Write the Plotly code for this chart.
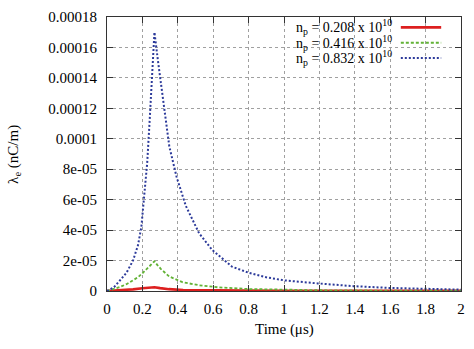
import plotly.graph_objects as go

# Time axis samples (microseconds) and line charge density (nC/m) per proton count
t_low = [0, 0.073, 0.147, 0.2, 0.24, 0.268, 0.3, 0.35, 0.43, 0.6, 1.0, 1.5, 2.0]
lam_low = [0, 0.3e-6, 1.1e-6, 1.8e-6, 2.2e-6, 2.5e-6, 1.9e-6, 1.2e-6, 0.6e-6, 0.35e-6, 0.2e-6, 0.12e-6, 0.1e-6]

t_mid = [0, 0.04, 0.073, 0.11, 0.147, 0.175, 0.203, 0.24, 0.268, 0.285, 0.305, 0.352,
         0.426, 0.52, 0.63, 0.8, 1.0, 1.2, 1.5, 2.0]
lam_mid = [0, 1.2e-6, 2.6e-6, 4.5e-6, 6.9e-6, 9.0e-6, 1.2e-5, 1.6e-5, 1.95e-5, 1.7e-5, 1.44e-5, 9.5e-6,
           5.8e-6, 3.8e-6, 2.4e-6, 1.3e-6, 0.8e-6, 0.5e-6, 0.3e-6, 0.15e-6]

t_high = [0, 0.04, 0.073, 0.11, 0.147, 0.175, 0.194, 0.209, 0.227, 0.24, 0.253, 0.264, 0.268,
          0.287, 0.315, 0.352, 0.393, 0.445, 0.52, 0.594, 0.706, 0.8, 0.9, 1.0, 1.19, 1.39,
          1.6, 1.8, 2.0]
lam_high = [0, 2.5e-6, 6.9e-6, 1.2e-5, 2.0e-5, 3.0e-5, 4.2e-5, 6.0e-5, 8.4e-5, 1.1e-4, 1.38e-4, 1.61e-4, 1.70e-4,
            1.52e-4, 1.27e-4, 9.5e-5, 7.5e-5, 5.6e-5, 3.8e-5, 2.7e-5, 1.6e-5, 1.2e-5, 9.0e-6, 7.0e-6, 5.0e-6, 3.2e-6,
            2.0e-6, 1.4e-6, 0.9e-6]

series_labels = ["0.208", "0.416", "0.832"]

x_ticks = [0, 0.2, 0.4, 0.6, 0.8, 1.0, 1.2, 1.4, 1.6, 1.8, 2.0]
x_ticktext = ["0", "0.2", "0.4", "0.6", "0.8", "1", "1.2", "1.4", "1.6", "1.8", "2"]
y_ticks = [0, 2e-5, 4e-5, 6e-5, 8e-5, 1e-4, 1.2e-4, 1.4e-4, 1.6e-4, 1.8e-4]
y_ticktext = ["0", "2e-05", "4e-05", "6e-05", "8e-05", "0.0001", "0.00012", "0.00014", "0.00016", "0.00018"]

FONT = "Liberation Serif, Times New Roman, serif"
RED, GREEN, BLUE = "#dd1f1f", "#62b236", "#2c3a9a"

styles = [
    dict(color=RED, width=2.6, dash="solid"),
    dict(color=GREEN, width=1.8, dash="3px,2px"),
    dict(color=BLUE, width=2.0, dash="2px,2px"),
]

fig = go.Figure()
for tx, ly, st in zip([t_low, t_mid, t_high], [lam_low, lam_mid, lam_high], styles):
    fig.add_trace(go.Scatter(x=tx, y=ly, mode="lines", line=st, showlegend=False,
                             hoverinfo="skip"))

axis_common = dict(
    showline=True, linecolor="#333333", linewidth=1, mirror="allticks",
    ticks="inside", ticklen=6, tickcolor="#333333",
    showgrid=True, gridcolor="#a0a0a0", griddash="dot", gridwidth=1,
    zeroline=False, tickfont=dict(family=FONT, size=15, color="black"),
)

fig.update_xaxes(range=[0, 2], tickvals=x_ticks, ticktext=x_ticktext,
                 ticklabelstandoff=4, **axis_common)
fig.update_yaxes(range=[0, 1.8e-4], tickvals=y_ticks, ticktext=y_ticktext,
                 ticklabelstandoff=6, **axis_common)

# Key box: white patch over the grid, text on the left, line sample on the right
shapes = [dict(type="rect", xref="paper", yref="paper", x0=0.49, x1=0.98, y0=0.81, y1=0.993,
               fillcolor="white", line=dict(width=0), layer="between")]
annotations = []
rows_y = [0.962, 0.906, 0.85]
for lbl, st, yy in zip(series_labels, styles, rows_y):
    shapes.append(dict(type="line", xref="paper", yref="paper", x0=0.83, x1=0.944, y0=yy, y1=yy,
                       line=dict(color=st["color"], width=st["width"], dash=st["dash"]), layer="above"))
    annotations.append(dict(xref="paper", yref="paper", x=0.812, y=yy, xanchor="right", yanchor="middle",
                            showarrow=False,
                            text=f"n<sub>p</sub> = {lbl} x 10<sup>10</sup>",
                            font=dict(family=FONT, size=14, color="black")))

annotations.append(dict(xref="paper", yref="paper", x=0.5, y=-0.139, xanchor="center", yanchor="middle",
                        showarrow=False, text="Time (μs)", font=dict(family=FONT, size=15, color="black")))
annotations.append(dict(xref="paper", yref="paper", x=-0.263, y=0.5, xanchor="center", yanchor="middle",
                        showarrow=False, textangle=-90, text="λ<sub>e</sub> (nC/m)",
                        font=dict(family=FONT, size=15, color="black")))

fig.update_layout(
    width=474, height=349,
    margin=dict(l=107, r=9, t=11, b=58),
    paper_bgcolor="white", plot_bgcolor="white",
    font=dict(family=FONT, size=15, color="black"),
    shapes=shapes, annotations=annotations,
)

fig.write_html("out.html")
